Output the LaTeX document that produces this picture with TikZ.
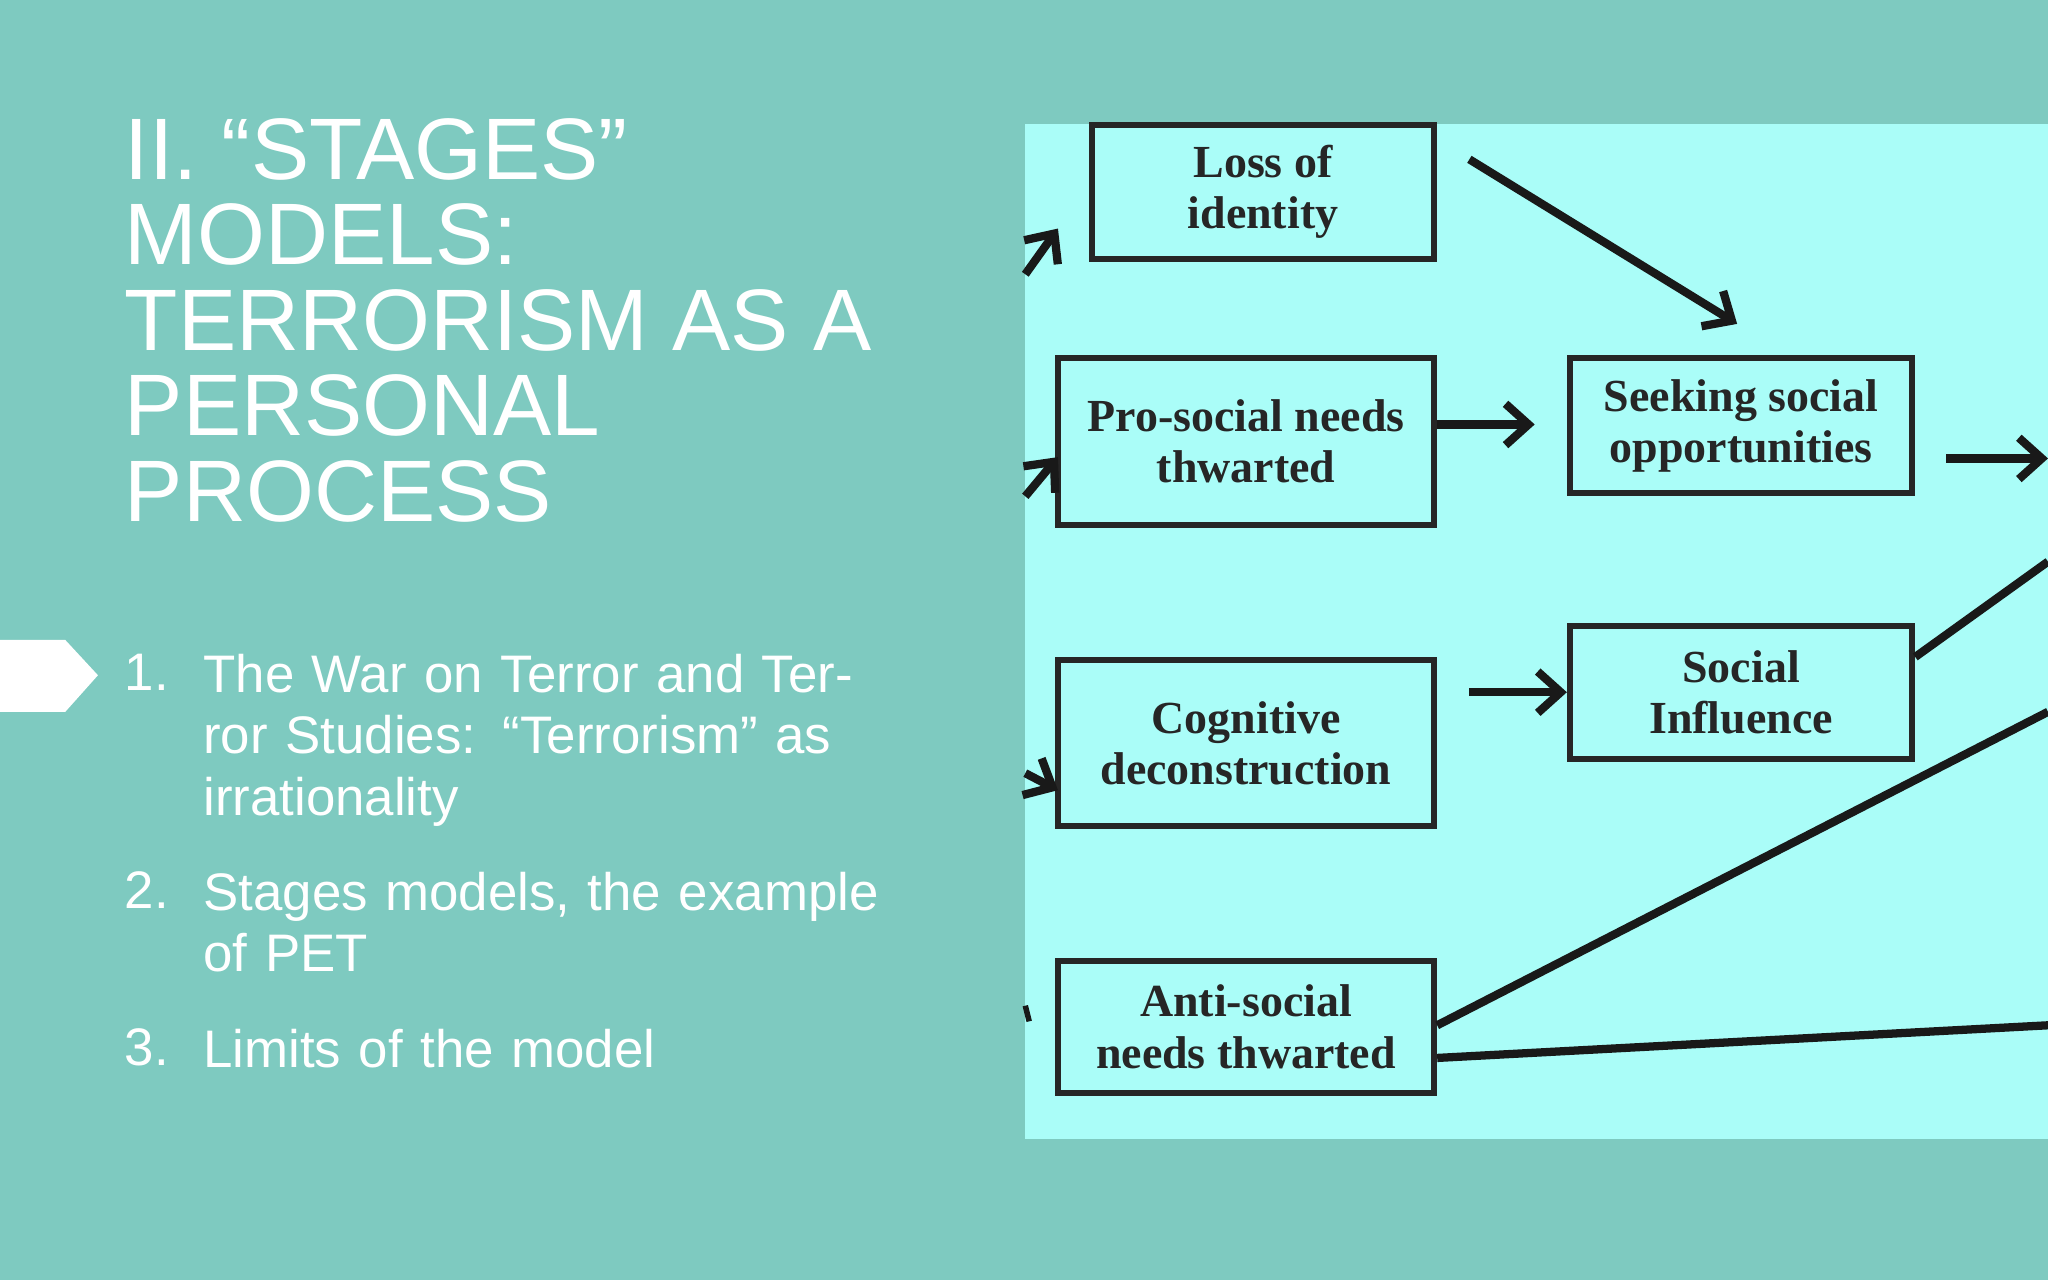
\documentclass[tikz,border=0pt]{standalone}
\usepackage{fontspec}
\setmainfont{Liberation Sans}
\newfontfamily\diag{Liberation Serif}
\usetikzlibrary{arrows.meta}
\definecolor{bg}{HTML}{7ECAC0}
\definecolor{panel}{HTML}{AAFDF8}
\begin{document}
\begin{tikzpicture}[x=0.01cm,y=-0.01cm,
  box/.style={draw=black!85,line width=1.3pt,align=center,font=\diag\bfseries\fontsize{10}{11.2}\selectfont,inner sep=0pt,text=black!85},
  arr/.style={line width=1.8pt,draw=black!90,-{Straight Barb[length=5pt,width=9pt]}},
  ln/.style={line width=1.8pt,draw=black!90},
  title/.style={text=white,font=\fontsize{19}{18.6}\selectfont,align=left,anchor=north west,inner sep=0pt},
  item/.style={text=white,font=\fontsize{11.5}{13.4}\selectfont,align=left,anchor=north west,inner sep=0pt,text width=5.3cm}]
\fill[bg] (0,0) rectangle (1568,980);
\useasboundingbox (0,0) rectangle (1568,980);
\fill[panel] (785,95) rectangle (1568,872);
\node[title] (t) at (95,90) {II. “STAGES”\\MODELS:\\TERRORISM AS A\\PERSONAL\\PROCESS};
\fill[white] (0,490) -- (50,490) -- (75,517) -- (50,545) -- (0,545) -- cycle;
\node[item,anchor=north east,text width=1cm,align=right] (n1) at (130,500) {1.};
\node[item] (i1) at (155,500) {\hyphenpenalty=10000 The War on Terror and Terror Studies: “Terrorism” as irrationality};
\node[item,anchor=north east,text width=1cm,align=right] (n2) at (130,667) {2.};
\node[item] (i2) at (155,667) {\hyphenpenalty=10000 Stages models, the example of PET};
\node[item,anchor=north east,text width=1cm,align=right] (n3) at (130,787) {3.};
\node[item] (i3) at (155,787) {Limits of the model};
% boxes
\node[box,minimum width=2.62cm,minimum height=1.02cm] (loss) at (967,147) {Loss of\\identity};
\node[box,minimum width=2.88cm,minimum height=1.28cm] (pro) at (954,338) {Pro-social needs\\thwarted};
\node[box,minimum width=2.62cm,minimum height=1.03cm] (seek) at (1333,326) {Seeking social\\opportunities};
\node[box,minimum width=2.88cm,minimum height=1.27cm] (cog) at (954,569) {Cognitive\\deconstruction};
\node[box,minimum width=2.62cm,minimum height=1.02cm] (soc) at (1333,530) {Social\\Influence};
\node[box,minimum width=2.88cm,minimum height=1.01cm] (anti) at (954,786) {Anti-social\\needs thwarted};
% coordinates
\coordinate (a1) at (1125,122); \coordinate (a2) at (1330,248);
\coordinate (p1) at (1100,325); \coordinate (p2) at (1175,325);
\coordinate (s1) at (1490,351); \coordinate (s2) at (1568,351);
\coordinate (c1) at (1125,530);
\coordinate (r1) at (1568,430);
\coordinate (r2) at (1568,545);
\coordinate (r3) at (1568,785);
\coordinate (l1) at (785,210); \coordinate (l1e) at (810,175);
\coordinate (l2) at (785,380); \coordinate (l2e) at (810,350);
\coordinate (l3) at (785,592); \coordinate (l3e) at (810,605);
\coordinate (m1) at (785,770); \coordinate (m2) at (788,782);
\draw[arr] (a1) -- (a2);
\draw[arr] (p1) -- (p2);
\draw[arr] (s1) -- (s2);
\draw[arr] (c1) -- (soc.west |- c1);
\draw[ln] (soc.east |- 0,503) -- (r1);
\draw[ln] (anti.east |- 0,785) -- (r2);
\draw[ln] (anti.east |- 0,810) -- (r3);
\draw[arr] (l1) -- (l1e);
\draw[arr] (l2) -- (l2e);
\draw[arr] (l3) -- (l3e);
\draw[ln,line width=1.2pt] (m1) -- (m2);
\end{tikzpicture}
\end{document}
